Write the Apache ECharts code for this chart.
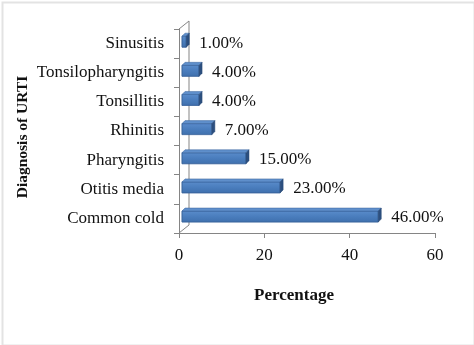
<!DOCTYPE html>
<html>
<head>
<meta charset="utf-8">
<script src="https://cdn.jsdelivr.net/npm/echarts@6/dist/echarts.min.js"></script>
<style>
html,body{margin:0;padding:0;background:#fff;}
#c{width:474px;height:345px;}
</style>
</head>
<body>
<div id="c"></div>
<script>
const categories = ["Common cold","Otitis media","Pharyngitis","Rhinitis","Tonsillitis","Tonsilopharyngitis","Sinusitis"];
const values = [46, 23, 15, 7, 4, 4, 1];
const labels = ["46.00%","23.00%","15.00%","7.00%","4.00%","4.00%","1.00%"];
const xTicks = [0, 20, 40, 60];

const FONT = "'Liberation Serif', 'Times New Roman', serif";
const AXIS = '#858585';
const chart = echarts.init(document.getElementById('c'), null, {renderer:'canvas'});

function renderItem(params, api) {
  const v = api.value(0), cat = api.value(1);
  const p0 = api.coord([0, cat]);
  const p1 = api.coord([v, cat]);
  const dx = 3, dy = 3, off = 3;
  const x0 = p0[0] + off, x1 = p1[0] + off, yc = p0[1];
  const top = yc - 7.4, bot = yc + 3.6;
  return {
    type: 'group',
    children: [
      {type:'polygon', shape:{points:[[x0,top],[x1,top],[x1,bot],[x0,bot]]},
       style:{fill:new echarts.graphic.LinearGradient(0,0,0,1,[{offset:0,color:'#5a8ccb'},{offset:0.5,color:'#4a7dbd'},{offset:1,color:'#3f70ad'}]), stroke:'#3a659c', lineWidth:0.6}},
      {type:'polygon', shape:{points:[[x0,top],[x1,top],[x1+dx,top-dy],[x0+dx,top-dy]]},
       style:{fill:'#5f8fcb', stroke:'#3a659c', lineWidth:0.5}},
      {type:'polygon', shape:{points:[[x1,top],[x1+dx,top-dy],[x1+dx,bot-dy],[x1,bot]]},
       style:{fill:'#2c4f7f', stroke:'#2a4a76', lineWidth:0.5}},
      {type:'text', style:{x:x1+dx+10, y:yc-0.5, text:labels[params.dataIndex], fill:'#111',
        font:'17px ' + FONT, textAlign:'left', textVerticalAlign:'middle'}}
    ]
  };
}

chart.setOption({
  animation:false,
  backgroundColor:'#fff',
  grid:{left:179, right:39, top:29, bottom:112, containLabel:false},
  xAxis:{type:'value', min:xTicks[0], max:xTicks[xTicks.length-1], interval:20,
    axisLine:{show:true, lineStyle:{color:AXIS, width:1}},
    axisTick:{show:true, length:5, lineStyle:{color:AXIS}},
    splitLine:{show:false},
    axisLabel:{color:'#111', fontFamily:FONT, fontSize:17, margin:14}},
  yAxis:{type:'category', data:categories,
    axisLine:{show:true, lineStyle:{color:AXIS, width:1}},
    axisTick:{show:true, length:5, lineStyle:{color:AXIS}},
    axisLabel:{color:'#111', fontFamily:FONT, fontSize:17, margin:15}},
  series:[{type:'custom', renderItem:renderItem, encode:{x:0, y:1},
    data: values.map((v,i)=>[v,i]), z:5}]
});

const x0 = chart.convertToPixel({xAxisIndex:0}, 0);
const gridRect = chart.getModel().getComponent('grid').coordinateSystem.getRect();
const yb = gridRect.y + gridRect.height, yt = gridRect.y;
const D = 10, DY = 8;
chart.setOption({
  graphic:[
    {type:'rect', left:0, top:0, shape:{x:1, y:1, width:472, height:343}, style:{fill:null, stroke:'#e3e3e3', lineWidth:2}, z:100},
    {type:'line', shape:{x1:x0+D, y1:yt-DY, x2:x0+D, y2:yb-DY}, style:{stroke:AXIS, lineWidth:1}, z:1},
    {type:'line', shape:{x1:x0, y1:yb, x2:x0+D, y2:yb-DY}, style:{stroke:AXIS, lineWidth:1}, z:1},
    {type:'line', shape:{x1:x0, y1:yt, x2:x0+D, y2:yt-DY}, style:{stroke:AXIS, lineWidth:1}, z:1},
    {type:'text', x:294, y:296, style:{text:'Percentage', font:'bold 17px ' + FONT, fill:'#111', textAlign:'center', textVerticalAlign:'middle'}},
    {type:'text', x:23, y:137, rotation:Math.PI/2, style:{text:'Diagnosis of URTI', font:'bold 15.5px ' + FONT, fill:'#111', textAlign:'center', textVerticalAlign:'middle'}}
  ]
});
</script>
</body>
</html>
